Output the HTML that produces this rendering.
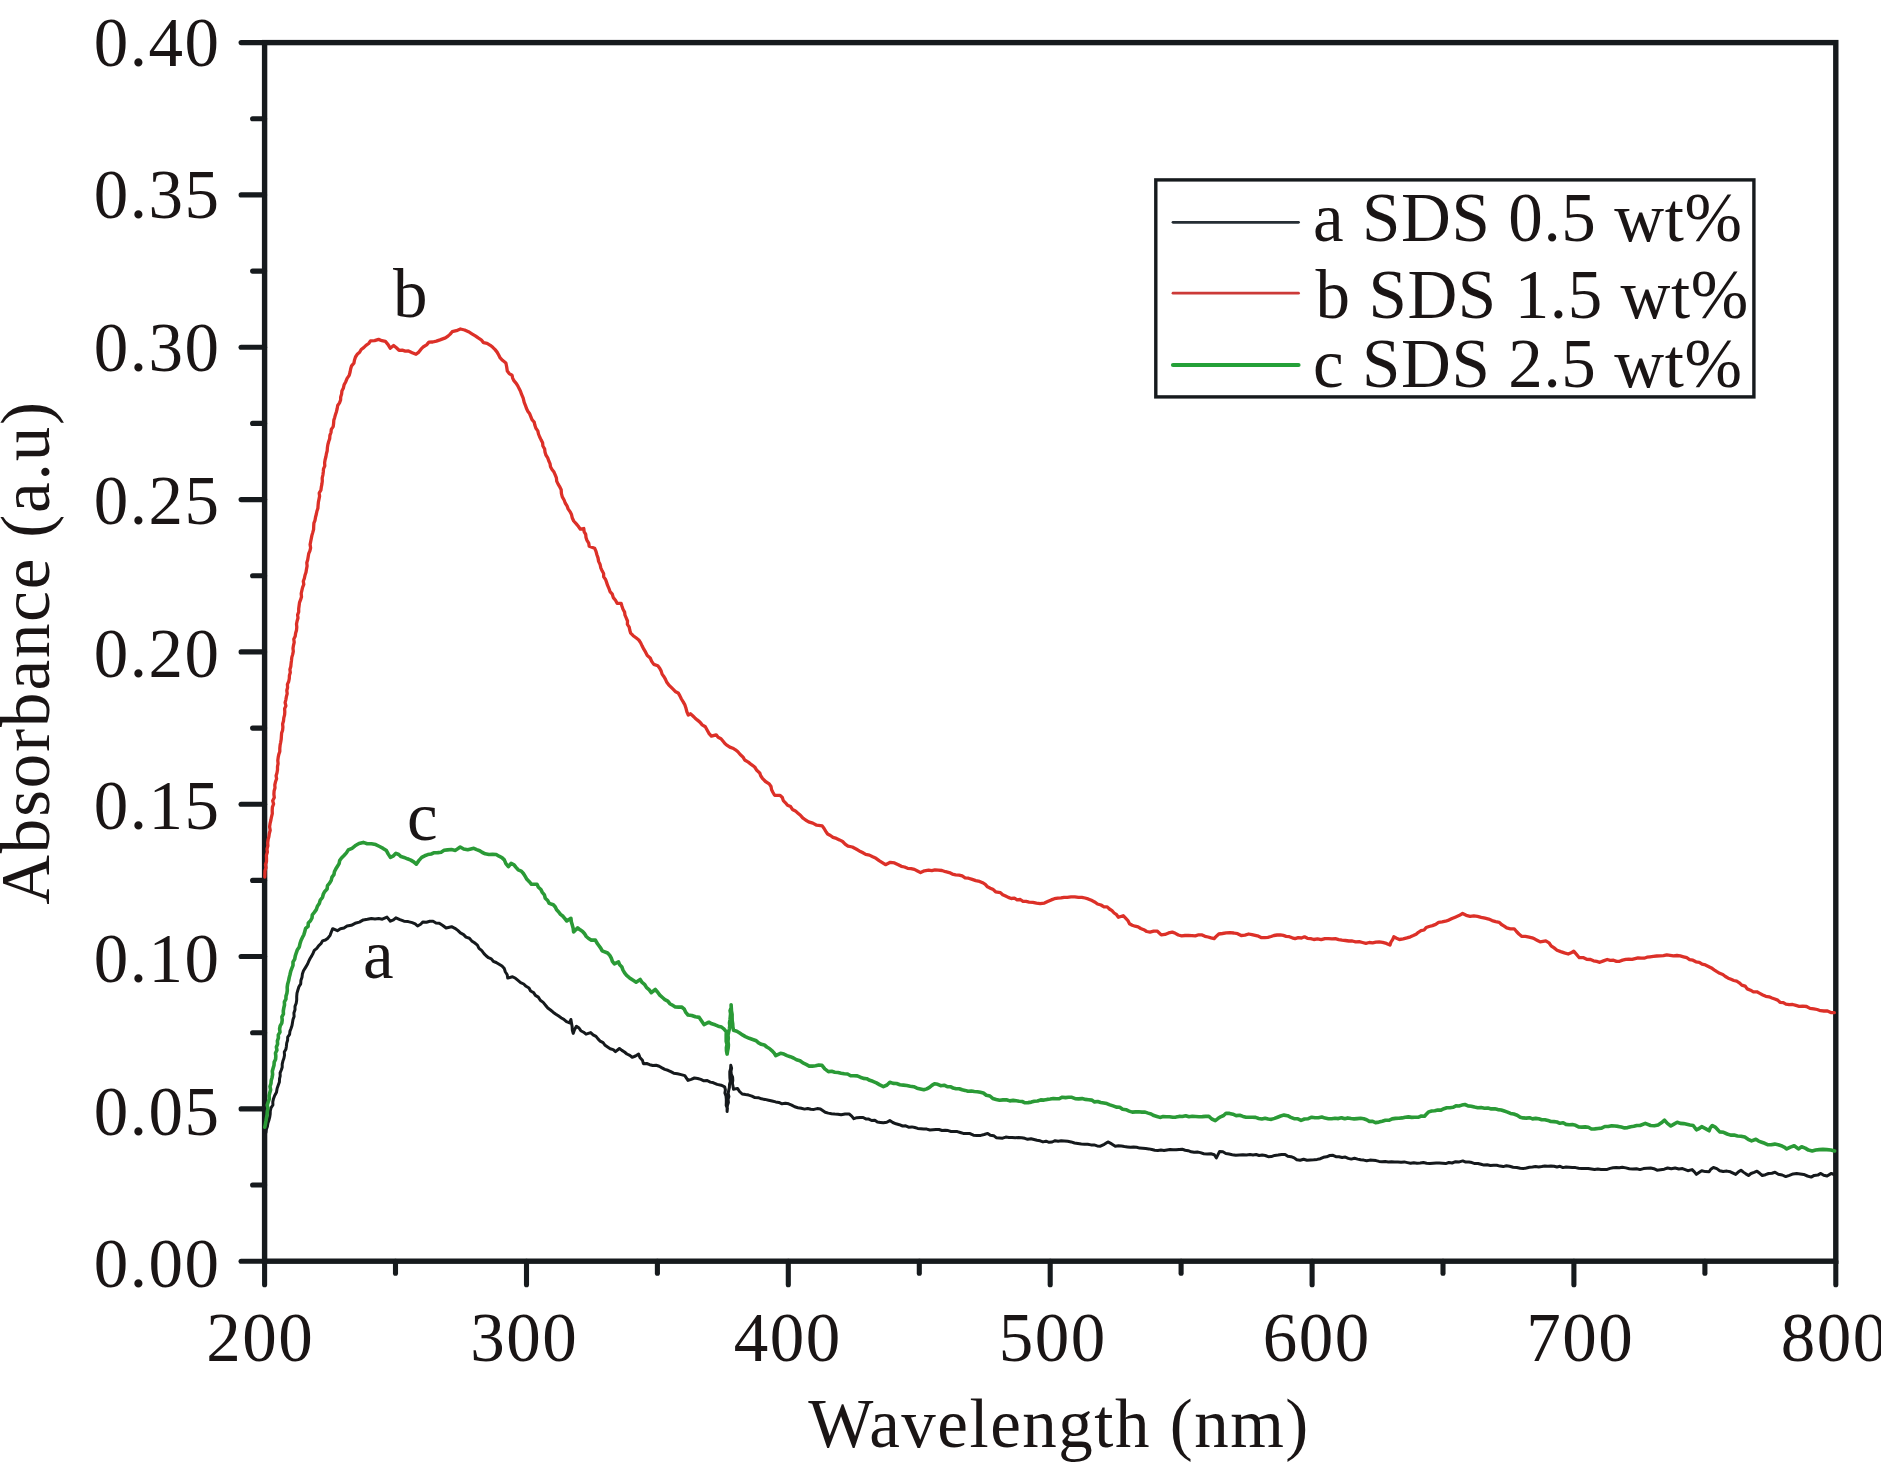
<!DOCTYPE html>
<html><head><meta charset="utf-8"><style>
html,body{margin:0;padding:0;background:#fff;overflow:hidden;}
svg{display:block;}
.t{font-family:"Liberation Serif",serif;font-size:69px;letter-spacing:1.5px;fill:#1a1515;}
</style></head><body>
<svg width="1881" height="1472" viewBox="0 0 1881 1472">
<rect x="264.6" y="42.6" width="1571.1999999999998" height="1218.6000000000001" fill="none" stroke="#161a1d" stroke-width="5.4"/>
<line x1="264.6" y1="1261.2" x2="264.6" y2="1284.7" stroke="#161a1d" stroke-width="5.1" stroke-linecap="round"/>
<line x1="395.5" y1="1261.2" x2="395.5" y2="1273.2" stroke="#161a1d" stroke-width="5.1" stroke-linecap="round"/>
<line x1="526.5" y1="1261.2" x2="526.5" y2="1284.7" stroke="#161a1d" stroke-width="5.1" stroke-linecap="round"/>
<line x1="657.4" y1="1261.2" x2="657.4" y2="1273.2" stroke="#161a1d" stroke-width="5.1" stroke-linecap="round"/>
<line x1="788.3" y1="1261.2" x2="788.3" y2="1284.7" stroke="#161a1d" stroke-width="5.1" stroke-linecap="round"/>
<line x1="919.3" y1="1261.2" x2="919.3" y2="1273.2" stroke="#161a1d" stroke-width="5.1" stroke-linecap="round"/>
<line x1="1050.2" y1="1261.2" x2="1050.2" y2="1284.7" stroke="#161a1d" stroke-width="5.1" stroke-linecap="round"/>
<line x1="1181.1" y1="1261.2" x2="1181.1" y2="1273.2" stroke="#161a1d" stroke-width="5.1" stroke-linecap="round"/>
<line x1="1312.1" y1="1261.2" x2="1312.1" y2="1284.7" stroke="#161a1d" stroke-width="5.1" stroke-linecap="round"/>
<line x1="1443.0" y1="1261.2" x2="1443.0" y2="1273.2" stroke="#161a1d" stroke-width="5.1" stroke-linecap="round"/>
<line x1="1573.9" y1="1261.2" x2="1573.9" y2="1284.7" stroke="#161a1d" stroke-width="5.1" stroke-linecap="round"/>
<line x1="1704.9" y1="1261.2" x2="1704.9" y2="1273.2" stroke="#161a1d" stroke-width="5.1" stroke-linecap="round"/>
<line x1="1835.8" y1="1261.2" x2="1835.8" y2="1284.7" stroke="#161a1d" stroke-width="5.1" stroke-linecap="round"/>
<line x1="264.6" y1="1261.2" x2="241.10000000000002" y2="1261.2" stroke="#161a1d" stroke-width="5.1" stroke-linecap="round"/>
<line x1="264.6" y1="1185.0" x2="252.60000000000002" y2="1185.0" stroke="#161a1d" stroke-width="5.1" stroke-linecap="round"/>
<line x1="264.6" y1="1108.9" x2="241.10000000000002" y2="1108.9" stroke="#161a1d" stroke-width="5.1" stroke-linecap="round"/>
<line x1="264.6" y1="1032.7" x2="252.60000000000002" y2="1032.7" stroke="#161a1d" stroke-width="5.1" stroke-linecap="round"/>
<line x1="264.6" y1="956.5" x2="241.10000000000002" y2="956.5" stroke="#161a1d" stroke-width="5.1" stroke-linecap="round"/>
<line x1="264.6" y1="880.4" x2="252.60000000000002" y2="880.4" stroke="#161a1d" stroke-width="5.1" stroke-linecap="round"/>
<line x1="264.6" y1="804.2" x2="241.10000000000002" y2="804.2" stroke="#161a1d" stroke-width="5.1" stroke-linecap="round"/>
<line x1="264.6" y1="728.1" x2="252.60000000000002" y2="728.1" stroke="#161a1d" stroke-width="5.1" stroke-linecap="round"/>
<line x1="264.6" y1="651.9" x2="241.10000000000002" y2="651.9" stroke="#161a1d" stroke-width="5.1" stroke-linecap="round"/>
<line x1="264.6" y1="575.7" x2="252.60000000000002" y2="575.7" stroke="#161a1d" stroke-width="5.1" stroke-linecap="round"/>
<line x1="264.6" y1="499.6" x2="241.10000000000002" y2="499.6" stroke="#161a1d" stroke-width="5.1" stroke-linecap="round"/>
<line x1="264.6" y1="423.4" x2="252.60000000000002" y2="423.4" stroke="#161a1d" stroke-width="5.1" stroke-linecap="round"/>
<line x1="264.6" y1="347.2" x2="241.10000000000002" y2="347.2" stroke="#161a1d" stroke-width="5.1" stroke-linecap="round"/>
<line x1="264.6" y1="271.1" x2="252.60000000000002" y2="271.1" stroke="#161a1d" stroke-width="5.1" stroke-linecap="round"/>
<line x1="264.6" y1="194.9" x2="241.10000000000002" y2="194.9" stroke="#161a1d" stroke-width="5.1" stroke-linecap="round"/>
<line x1="264.6" y1="118.8" x2="252.60000000000002" y2="118.8" stroke="#161a1d" stroke-width="5.1" stroke-linecap="round"/>
<line x1="264.6" y1="42.6" x2="241.10000000000002" y2="42.6" stroke="#161a1d" stroke-width="5.1" stroke-linecap="round"/>
<polyline points="265.9,1132.6 266.3,1129.4 267.4,1126.4 267.9,1123.3 268.9,1120.3 269.7,1117.2 270.2,1114.1 270.3,1110.9 271.0,1107.8 272.9,1105.0 272.8,1101.8 273.5,1098.7 274.6,1095.7 276.5,1092.3 277.1,1088.4 278.4,1084.8 279.4,1081.9 279.5,1078.9 280.2,1076.0 280.1,1072.9 281.3,1070.0 282.2,1067.2 282.2,1064.1 282.9,1061.1 283.9,1058.2 284.5,1055.2 284.3,1052.0 285.9,1049.2 286.4,1046.2 286.7,1043.1 287.6,1040.2 287.7,1037.1 289.6,1034.4 289.9,1031.4 291.0,1028.5 292.0,1025.6 292.5,1022.6 293.0,1019.6 294.1,1016.4 293.9,1013.0 295.0,1009.8 295.0,1006.4 296.2,1003.3 296.7,1000.0 296.7,996.6 297.0,993.2 297.9,990.0 298.9,986.8 300.7,983.9 300.9,980.5 302.0,977.3 302.4,974.0 303.5,970.8 305.6,967.4 307.6,964.0 308.8,961.2 310.1,958.5 311.7,955.9 313.1,953.2 314.3,950.4 316.8,948.4 318.6,945.8 320.9,943.7 322.5,940.9 325.4,940.0 327.9,938.2 330.1,935.3 331.3,932.0 332.7,928.7 337.4,930.7 340.4,928.7 344.0,928.0 347.0,926.0 351.3,925.3 355.1,923.3 359.4,922.1 363.3,919.9 367.4,919.3 371.4,918.5 375.0,919.0 378.7,918.6 382.3,919.2 387.0,917.1 390.4,921.2 393.4,919.9 395.9,917.8 399.9,919.6 404.0,921.2 408.2,921.6 412.2,922.6 415.2,923.8 417.6,926.0 420.6,924.3 423.0,921.9 426.5,922.2 429.8,921.2 433.1,921.3 436.0,923.0 439.3,923.3 442.8,925.5 446.1,928.0 451.6,926.7 454.9,928.3 457.8,930.4 460.4,932.9 463.6,934.6 466.0,937.1 469.4,938.2 471.7,940.9 474.5,942.8 477.4,945.1 479.0,948.4 481.8,950.7 484.0,953.6 486.1,955.8 488.5,957.7 491.3,958.9 493.3,961.3 496.2,962.5 499.1,964.3 502.0,966.1 504.3,968.6 505.3,971.8 507.2,974.7 507.7,978.1 512.5,976.7 515.5,978.3 518.0,980.4 520.6,982.6 523.7,984.0 526.1,986.3 529.0,988.0 530.6,991.0 533.6,992.6 535.4,995.4 538.3,997.1 540.3,1000.2 543.2,1002.4 545.5,1005.2 547.8,1008.0 550.5,1010.0 553.1,1012.2 555.9,1014.2 558.7,1016.1 561.4,1017.9 564.1,1019.6 566.5,1021.7 569.6,1022.9 570.9,1019.5 571.5,1023.0 572.1,1026.4 572.3,1030.0 573.2,1033.4 574.5,1029.7 576.4,1026.2 579.0,1028.0 580.8,1030.7 583.6,1032.2 586.0,1034.2 590.7,1032.6 593.1,1034.8 596.0,1036.3 598.0,1038.9 600.2,1041.2 603.1,1042.7 605.1,1045.3 607.6,1047.0 610.2,1048.7 613.2,1049.6 615.5,1051.7 619.4,1048.5 621.9,1050.4 624.5,1052.0 626.9,1054.0 629.8,1055.4 632.2,1057.3 635.5,1056.0 638.6,1054.1 639.9,1057.4 642.4,1060.2 643.4,1063.7 646.7,1063.5 649.7,1064.7 652.8,1065.5 656.1,1065.3 659.2,1066.3 662.0,1067.9 664.8,1069.4 667.9,1070.3 670.8,1071.7 673.7,1073.2 677.5,1073.7 681.1,1074.6 684.8,1075.6 688.0,1080.4 691.2,1079.3 694.4,1078.0 697.7,1078.5 700.8,1079.4 703.9,1080.8 707.3,1080.6 710.3,1082.1 713.5,1082.8 717.1,1084.4 721.1,1085.2 724.7,1086.8 725.4,1089.8 724.9,1093.0 726.0,1096.0 726.3,1099.1 726.3,1102.2 726.2,1105.4 727.4,1108.4 727.1,1111.5 727.1,1108.5 727.4,1105.5 728.4,1102.5 728.1,1099.4 728.9,1096.5 728.2,1093.4 728.7,1090.4 729.4,1087.4 729.5,1084.4 730.3,1081.3 729.9,1078.0 729.8,1074.8 729.8,1071.6 730.6,1068.5 730.8,1065.3 731.6,1068.2 731.0,1071.3 731.3,1074.3 732.6,1077.2 732.8,1080.2 732.4,1083.3 733.0,1086.2 733.5,1089.2 737.5,1088.4 739.5,1091.5 742.2,1094.0 745.5,1094.6 748.7,1095.1 751.9,1096.1 754.9,1097.6 758.3,1097.7 761.4,1098.8 765.0,1099.4 768.6,1100.2 772.1,1101.0 775.7,1101.9 778.9,1102.4 782.0,1103.8 785.4,1103.3 788.6,1103.8 791.7,1105.1 794.7,1106.8 797.9,1107.7 801.3,1108.3 804.5,1109.1 807.7,1108.5 810.8,1109.3 814.0,1109.4 817.2,1108.6 820.4,1109.1 825.2,1112.3 828.3,1113.1 831.5,1113.7 834.7,1114.0 837.9,1114.2 841.1,1114.7 845.1,1114.0 849.1,1113.9 851.7,1116.1 853.9,1118.7 856.9,1117.7 860.0,1117.4 863.1,1117.5 865.8,1118.9 868.8,1119.1 871.6,1120.5 874.8,1120.2 877.4,1122.0 880.4,1122.4 883.4,1122.8 886.8,1122.3 889.8,1120.6 892.8,1122.5 896.0,1123.8 899.4,1124.7 902.6,1126.0 905.7,1125.8 908.6,1127.2 911.8,1126.9 914.8,1127.5 917.7,1128.4 920.8,1128.7 923.8,1129.1 926.8,1129.1 929.9,1130.0 932.9,1129.7 936.0,1129.5 939.0,1129.5 942.0,1130.5 945.1,1130.2 948.1,1130.6 951.1,1131.5 954.3,1131.4 957.3,1131.6 960.3,1132.5 963.3,1133.4 966.4,1133.4 970.0,1133.6 973.4,1135.2 977.0,1135.5 980.7,1135.4 984.2,1134.5 987.7,1133.4 990.3,1135.2 993.7,1135.7 996.2,1137.7 999.4,1137.9 1002.6,1138.2 1005.8,1137.1 1009.0,1137.4 1012.1,1137.4 1015.3,1137.7 1018.5,1137.6 1021.7,1137.7 1024.8,1138.3 1027.7,1139.3 1031.0,1138.8 1034.0,1139.5 1037.0,1140.2 1040.1,1140.8 1043.0,1141.9 1046.0,1141.2 1049.1,1142.3 1052.2,1142.0 1055.1,1140.7 1058.2,1141.2 1061.2,1140.8 1064.3,1140.9 1067.7,1141.3 1071.1,1141.9 1074.5,1143.0 1077.9,1143.5 1081.3,1144.0 1084.5,1144.2 1087.7,1144.3 1090.9,1144.9 1094.1,1144.9 1097.2,1145.9 1100.4,1146.2 1104.3,1144.3 1107.9,1141.9 1111.7,1143.9 1115.3,1146.2 1118.4,1145.8 1121.4,1146.0 1124.4,1146.5 1127.5,1146.9 1130.5,1147.3 1133.6,1146.9 1136.6,1147.2 1139.6,1148.1 1142.7,1148.3 1145.7,1148.5 1148.8,1148.9 1151.8,1149.5 1154.8,1150.2 1157.9,1150.4 1160.9,1150.1 1164.0,1150.4 1167.0,1149.9 1170.0,1149.5 1173.0,1149.7 1176.1,1149.8 1179.1,1149.4 1182.2,1149.3 1185.2,1150.2 1188.2,1150.7 1191.2,1151.8 1194.2,1152.3 1197.4,1152.0 1200.4,1152.6 1203.8,1153.7 1207.3,1154.1 1210.9,1153.8 1214.3,1154.7 1216.4,1157.9 1218.0,1154.7 1219.6,1151.5 1222.9,1151.8 1225.8,1153.5 1229.1,1154.1 1232.3,1154.7 1235.8,1155.2 1239.4,1155.0 1242.9,1154.8 1246.5,1154.9 1250.0,1154.5 1253.0,1154.9 1256.1,1154.5 1259.1,1155.5 1262.2,1155.0 1265.3,1155.5 1268.2,1156.7 1271.3,1156.6 1274.7,1155.4 1278.1,1155.0 1281.6,1154.5 1285.1,1154.5 1287.8,1156.3 1291.1,1156.7 1294.2,1157.9 1296.8,1159.8 1300.2,1160.3 1303.6,1159.3 1307.0,1160.3 1310.4,1160.0 1313.8,1159.8 1317.1,1159.4 1320.4,1158.7 1323.4,1157.3 1326.7,1156.8 1329.8,1155.5 1333.0,1155.3 1335.9,1156.7 1339.0,1156.8 1342.1,1157.5 1345.3,1157.1 1348.2,1158.4 1351.3,1159.1 1354.5,1158.3 1357.6,1159.1 1360.6,1159.8 1363.7,1160.1 1366.7,1160.7 1369.9,1160.1 1372.9,1160.3 1376.0,1160.6 1379.1,1161.4 1382.1,1161.8 1385.2,1161.5 1388.3,1161.9 1391.5,1161.8 1394.7,1162.0 1397.9,1162.0 1401.1,1162.2 1404.3,1161.9 1407.4,1162.6 1410.6,1163.3 1413.8,1162.7 1417.0,1163.2 1420.2,1163.0 1423.4,1162.5 1426.6,1163.3 1429.8,1163.4 1433.0,1163.2 1436.2,1163.0 1439.3,1163.0 1442.5,1163.2 1445.7,1163.6 1448.9,1162.5 1452.1,1163.0 1455.6,1161.7 1459.3,1161.9 1462.8,1160.9 1465.7,1162.1 1468.9,1162.1 1471.9,1162.6 1474.9,1163.6 1478.0,1163.5 1481.0,1164.2 1484.0,1165.1 1487.2,1164.8 1490.4,1165.5 1493.6,1165.3 1496.8,1165.3 1500.0,1166.1 1503.2,1166.6 1506.4,1165.8 1509.6,1166.2 1513.1,1167.2 1516.7,1167.5 1520.2,1168.3 1523.3,1168.6 1526.4,1168.0 1529.4,1167.3 1532.5,1167.0 1535.5,1166.5 1538.7,1166.9 1541.7,1166.5 1544.8,1166.0 1547.9,1166.2 1550.9,1166.1 1554.0,1166.2 1557.0,1167.0 1560.0,1166.3 1563.0,1167.6 1566.1,1167.0 1569.1,1167.2 1572.3,1167.6 1575.5,1167.6 1578.6,1168.3 1581.8,1168.5 1585.0,1168.4 1588.2,1168.5 1591.4,1169.0 1594.6,1169.5 1597.8,1169.0 1601.0,1169.4 1604.1,1169.4 1607.2,1169.4 1610.1,1168.4 1613.1,1167.8 1616.2,1167.5 1619.3,1167.8 1622.3,1167.2 1625.8,1167.9 1629.3,1168.8 1632.9,1169.1 1636.5,1168.8 1640.0,1169.6 1643.5,1168.6 1647.0,1168.2 1650.6,1168.0 1653.9,1168.7 1657.0,1170.2 1660.6,1169.7 1664.2,1169.2 1667.6,1168.0 1671.3,1168.7 1675.1,1168.0 1678.8,1169.0 1682.5,1168.6 1687.8,1170.7 1692.1,1169.6 1694.4,1171.8 1696.4,1174.4 1699.0,1172.5 1701.7,1170.7 1705.4,1171.6 1709.1,1171.8 1710.8,1169.2 1713.4,1167.5 1716.8,1168.6 1719.7,1170.7 1723.2,1171.5 1726.9,1171.1 1730.4,1171.8 1735.7,1174.4 1738.2,1172.1 1741.0,1170.2 1743.4,1172.1 1745.9,1173.9 1748.5,1175.5 1751.0,1173.5 1754.1,1172.4 1757.0,1171.2 1759.7,1173.3 1762.3,1175.5 1765.5,1174.7 1768.6,1173.5 1771.9,1173.2 1775.0,1172.3 1778.3,1174.3 1782.2,1175.0 1785.7,1176.6 1789.4,1175.3 1793.1,1173.9 1796.7,1173.5 1800.2,1173.9 1803.7,1174.4 1807.4,1176.0 1811.2,1177.1 1814.2,1175.4 1817.8,1175.1 1820.8,1173.4 1823.7,1175.2 1827.1,1176.0 1831.4,1173.4 1833.5,1174.4" fill="none" stroke="#15191c" stroke-width="3.0" stroke-linejoin="round" stroke-linecap="round"/>
<polyline points="264.8,1127.2 265.4,1124.1 266.0,1120.9 266.5,1117.8 267.1,1114.7 267.3,1111.5 268.0,1108.4 267.2,1105.1 268.2,1102.0 269.3,1098.9 269.1,1095.7 269.8,1092.7 270.6,1089.7 270.0,1086.5 271.0,1083.5 271.2,1080.4 272.1,1077.4 272.6,1074.4 272.3,1071.2 273.1,1068.2 274.0,1065.2 274.2,1062.1 275.6,1059.2 275.8,1056.2 275.5,1053.0 276.9,1050.2 276.4,1047.0 277.6,1044.1 277.4,1040.9 278.4,1038.0 278.3,1034.9 280.0,1032.1 279.6,1028.9 280.2,1025.9 281.8,1023.1 282.2,1020.0 281.9,1016.9 283.4,1014.0 283.3,1010.9 283.8,1007.9 284.5,1005.0 284.4,1001.9 285.9,999.1 286.0,996.1 286.9,993.2 287.3,990.2 287.2,987.1 287.7,983.9 288.6,980.8 289.2,977.6 290.0,974.5 290.7,971.3 291.8,968.3 293.0,965.3 293.0,962.0 294.7,959.1 295.3,955.9 296.3,952.8 297.4,949.7 299.3,946.9 300.0,943.6 301.0,940.5 302.4,937.5 303.9,934.6 304.8,931.4 305.6,928.4 308.1,926.3 308.3,923.0 310.5,920.7 312.0,918.0 312.3,914.8 314.3,912.4 316.3,909.6 317.4,906.3 319.3,903.5 320.3,900.1 322.5,897.4 323.3,894.2 324.8,891.4 327.1,889.0 327.5,885.6 329.6,883.1 331.2,880.3 332.0,877.1 333.9,874.6 334.5,871.5 335.9,868.8 337.5,866.2 339.1,863.6 339.7,860.5 341.5,858.0 344.0,855.5 346.4,852.9 348.3,849.9 352.0,848.3 355.1,845.8 359.0,843.5 363.3,842.4 367.2,843.7 371.4,843.8 375.7,844.6 379.6,846.5 383.1,848.4 386.4,850.6 388.3,854.1 390.4,857.4 393.5,855.8 395.9,853.3 398.7,854.5 401.0,856.6 404.0,857.4 407.4,858.8 410.8,860.1 413.7,861.9 416.3,864.2 418.8,860.6 421.7,857.4 424.7,855.8 427.8,854.6 431.2,854.0 434.3,852.7 437.8,852.6 441.1,852.2 444.1,850.3 447.5,849.9 451.5,849.5 455.4,850.4 460.2,847.0 463.7,849.0 467.7,849.7 470.8,849.0 473.8,848.3 476.7,849.6 479.7,850.7 482.4,852.5 485.3,853.8 488.9,854.5 492.6,854.2 496.2,854.5 499.0,856.2 501.9,857.6 504.3,859.9 505.9,863.6 508.4,866.7 511.1,863.3 514.0,864.8 516.0,867.4 518.2,869.8 521.3,871.1 523.4,873.5 525.2,876.4 526.9,879.3 529.3,881.7 531.5,884.3 537.0,884.3 538.4,887.2 540.9,889.5 542.3,892.4 544.4,894.9 545.3,898.2 547.7,900.5 549.2,903.4 553.3,904.7 555.3,907.0 556.6,909.8 558.7,912.0 560.5,914.4 563.0,916.3 564.9,918.7 566.8,921.0 570.9,918.3 571.3,921.8 572.3,925.1 573.2,928.4 573.6,931.9 577.7,927.8 580.1,929.8 582.6,931.5 584.6,933.8 586.3,936.5 588.6,938.5 591.3,940.1 595.4,940.1 596.9,942.9 598.8,945.5 600.7,948.1 602.2,950.9 607.6,953.0 609.8,955.4 611.3,958.2 612.4,961.3 614.4,963.8 618.5,961.8 619.7,964.8 621.9,967.1 623.0,970.2 624.6,972.9 626.6,975.4 629.6,977.9 632.8,980.1 636.1,982.2 640.2,979.5 642.1,982.4 644.8,984.7 646.6,987.6 649.3,989.9 651.3,992.7 655.3,989.5 657.7,992.2 659.8,995.1 662.5,997.5 664.9,999.6 667.8,1001.1 669.8,1003.7 672.6,1005.3 675.3,1007.0 678.5,1007.1 681.6,1007.0 684.3,1009.2 685.8,1012.4 688.0,1015.0 691.8,1015.5 695.4,1016.8 699.2,1017.4 701.6,1021.0 704.0,1024.6 708.8,1022.2 711.8,1023.8 715.1,1024.8 718.2,1026.2 721.5,1027.0 724.1,1029.2 726.3,1031.8 726.2,1035.0 726.2,1038.2 726.2,1041.4 727.0,1044.5 726.4,1047.7 726.5,1050.9 727.1,1054.1 727.6,1050.9 728.2,1047.8 728.4,1044.6 728.0,1041.4 728.3,1038.2 728.0,1035.0 728.7,1031.8 729.4,1028.8 729.8,1025.8 729.5,1022.8 730.0,1019.8 730.3,1016.8 730.6,1013.8 730.1,1010.7 731.2,1007.7 731.1,1004.7 731.3,1007.9 731.5,1011.1 732.1,1014.3 732.1,1017.5 732.2,1020.7 732.7,1023.8 732.9,1027.0 733.5,1030.2 736.8,1031.2 739.7,1033.0 742.5,1034.9 745.4,1036.6 749.3,1038.3 753.4,1039.7 756.3,1040.8 758.6,1042.9 761.3,1044.3 764.4,1045.0 766.8,1047.0 769.4,1048.5 771.8,1050.6 774.1,1052.9 775.7,1055.7 780.5,1053.3 783.9,1054.1 787.0,1055.6 790.3,1056.7 793.5,1058.0 796.5,1059.7 800.0,1060.7 802.9,1062.9 806.1,1064.4 809.2,1066.1 812.4,1066.1 815.6,1065.8 818.8,1065.1 822.0,1065.3 824.8,1068.9 828.4,1071.6 831.7,1071.3 834.8,1072.3 838.0,1072.5 841.1,1073.2 844.3,1073.7 847.6,1074.0 850.6,1075.7 853.9,1075.7 857.2,1075.9 860.3,1077.2 863.4,1078.4 866.7,1078.7 869.7,1080.3 872.8,1081.3 876.4,1082.9 879.8,1084.9 883.4,1086.6 887.0,1085.0 889.8,1082.3 893.1,1083.4 896.6,1083.5 899.9,1084.7 903.4,1085.1 906.8,1085.5 910.2,1086.2 913.7,1086.7 917.0,1088.2 920.4,1089.0 923.8,1089.8 926.8,1088.9 929.5,1087.4 931.9,1085.4 934.5,1083.8 937.7,1084.3 940.7,1085.7 944.2,1085.2 947.2,1086.6 950.3,1086.7 953.1,1088.0 956.1,1088.7 959.2,1088.7 962.1,1089.8 965.1,1090.4 968.1,1091.3 971.3,1091.0 974.3,1091.5 977.4,1091.7 980.4,1092.3 983.4,1093.0 986.3,1095.2 989.9,1096.0 992.7,1098.4 996.2,1099.4 999.6,1100.2 1003.0,1099.9 1006.4,1099.7 1009.8,1100.9 1013.2,1100.4 1016.2,1100.8 1019.2,1101.2 1022.2,1101.5 1025.0,1102.8 1028.1,1102.6 1031.3,1102.1 1034.4,1101.2 1037.6,1101.0 1040.7,1099.9 1044.0,1100.1 1047.2,1099.4 1050.2,1099.0 1053.3,1098.5 1056.4,1098.8 1059.4,1098.6 1062.3,1097.2 1065.5,1097.6 1068.5,1097.2 1071.9,1097.3 1075.2,1098.7 1078.6,1098.9 1082.1,1098.6 1085.5,1099.4 1088.6,1099.7 1091.7,1100.1 1094.5,1101.9 1097.7,1101.5 1100.7,1102.5 1103.8,1103.0 1106.8,1103.6 1109.9,1104.9 1113.1,1105.9 1116.3,1107.1 1119.7,1107.3 1122.6,1109.3 1126.0,1109.7 1129.1,1111.1 1132.3,1112.1 1135.5,1111.9 1138.7,1111.8 1141.9,1112.1 1145.1,1112.1 1148.1,1113.1 1151.1,1114.0 1153.9,1115.6 1157.0,1116.5 1160.0,1117.4 1163.1,1116.6 1166.3,1116.7 1169.5,1116.8 1172.8,1117.3 1175.9,1117.1 1179.1,1116.4 1182.4,1116.5 1185.7,1115.7 1189.0,1116.8 1192.3,1116.3 1195.7,1116.5 1199.0,1116.7 1202.3,1116.6 1205.6,1116.4 1208.9,1116.4 1211.8,1119.0 1215.3,1120.6 1217.9,1118.6 1220.6,1116.8 1223.6,1115.5 1226.0,1113.2 1229.5,1113.4 1232.9,1114.2 1236.1,1115.6 1239.7,1115.2 1243.0,1116.4 1246.1,1117.2 1249.3,1117.3 1252.4,1117.3 1255.6,1117.4 1258.7,1118.5 1261.8,1119.0 1265.1,1118.2 1268.2,1119.0 1271.3,1119.4 1274.5,1118.4 1277.6,1117.2 1280.7,1116.0 1284.0,1115.1 1287.6,1115.7 1290.8,1117.3 1294.1,1118.7 1297.9,1118.8 1301.1,1120.4 1304.5,1119.0 1308.3,1118.7 1311.7,1117.2 1315.0,1117.8 1318.4,1117.7 1321.8,1117.0 1325.1,1118.1 1328.4,1118.7 1331.7,1118.8 1335.1,1118.3 1338.3,1118.6 1341.5,1117.7 1344.7,1118.8 1347.8,1117.9 1351.0,1118.5 1354.2,1118.9 1357.4,1118.6 1360.6,1118.3 1363.7,1118.7 1366.6,1119.7 1369.4,1121.4 1372.7,1121.3 1375.5,1122.6 1378.9,1122.1 1382.2,1121.3 1385.4,1120.3 1388.9,1120.3 1392.1,1118.9 1395.5,1118.4 1398.9,1118.3 1402.1,1117.9 1405.3,1117.2 1408.4,1116.9 1411.7,1117.4 1414.9,1117.3 1418.1,1117.3 1421.3,1116.0 1424.5,1116.2 1426.5,1114.0 1428.7,1111.9 1431.7,1111.0 1434.8,1110.8 1437.8,1110.1 1441.0,1110.1 1443.9,1108.7 1446.8,1107.7 1450.0,1107.7 1453.0,1107.3 1455.9,1105.9 1459.0,1106.0 1461.9,1105.1 1464.9,1104.5 1468.0,1105.9 1471.3,1106.2 1474.5,1107.1 1477.7,1107.7 1481.1,1107.6 1484.5,1108.2 1487.9,1108.0 1491.3,1108.9 1494.7,1108.7 1497.9,1109.6 1501.2,1110.0 1504.3,1111.0 1507.5,1112.1 1510.5,1113.4 1513.8,1114.0 1517.2,1115.2 1520.2,1117.2 1523.2,1117.9 1526.3,1118.1 1529.5,1117.7 1532.5,1118.9 1535.7,1118.4 1538.7,1118.8 1541.7,1119.8 1544.9,1119.7 1547.9,1120.4 1550.8,1121.5 1554.0,1121.6 1557.0,1122.0 1559.9,1123.3 1563.2,1122.8 1566.0,1124.4 1569.1,1124.7 1572.4,1124.6 1575.6,1125.3 1578.6,1126.9 1581.9,1127.1 1585.2,1126.9 1588.4,1127.3 1591.4,1129.0 1594.7,1128.9 1598.1,1128.5 1601.6,1128.1 1604.8,1126.5 1608.3,1126.5 1611.7,1125.7 1614.9,1126.0 1618.2,1126.4 1621.3,1127.1 1624.5,1127.9 1627.6,1127.6 1630.7,1126.7 1633.8,1126.3 1636.8,1125.5 1640.0,1125.5 1645.3,1123.4 1650.6,1125.5 1654.4,1125.7 1658.1,1125.0 1661.4,1122.8 1664.5,1120.2 1667.4,1123.4 1670.8,1126.0 1674.0,1124.1 1677.2,1122.3 1680.3,1123.4 1683.6,1123.6 1686.8,1124.3 1690.0,1125.0 1693.2,1125.5 1696.4,1129.8 1699.2,1128.5 1701.7,1126.6 1705.5,1128.6 1709.1,1130.8 1710.2,1127.9 1712.3,1125.5 1715.2,1127.1 1717.5,1129.5 1719.7,1131.9 1723.6,1132.3 1727.2,1134.0 1730.6,1135.1 1734.1,1135.1 1737.5,1136.0 1741.0,1136.2 1744.8,1137.1 1748.1,1139.3 1751.6,1140.9 1755.9,1139.3 1758.6,1141.1 1761.7,1142.2 1764.7,1143.3 1767.6,1144.7 1771.1,1144.7 1774.7,1144.1 1778.2,1144.7 1781.2,1145.7 1784.1,1147.1 1786.7,1148.9 1790.4,1147.1 1794.2,1145.7 1798.4,1148.9 1801.6,1146.8 1805.2,1148.1 1808.5,1150.1 1812.2,1151.0 1815.7,1150.0 1819.3,1149.6 1822.9,1149.4 1826.8,1149.6 1830.8,1150.0 1834.6,1151.0" fill="none" stroke="#2a9a36" stroke-width="3.6" stroke-linejoin="round" stroke-linecap="round"/>
<polyline points="264.8,877.0 264.9,873.9 265.0,870.7 266.0,867.7 265.5,864.5 266.5,861.5 266.5,858.3 266.4,855.2 267.4,852.1 267.0,849.0 267.9,845.9 267.7,842.8 268.1,839.7 268.9,836.6 269.3,833.5 270.2,830.2 269.6,826.7 270.1,823.3 270.9,820.0 271.5,816.8 272.3,813.7 272.2,810.4 272.4,807.1 273.6,804.0 272.7,800.7 274.3,797.6 273.9,794.3 274.1,791.0 275.0,787.9 274.8,784.8 275.5,781.8 276.6,778.8 276.1,775.7 277.0,772.7 277.5,769.7 277.5,766.6 278.1,763.6 277.8,760.5 278.2,757.4 278.8,754.4 279.8,751.5 279.8,748.4 280.1,745.3 280.7,742.3 281.2,739.3 281.4,736.2 281.6,733.1 282.6,730.2 282.9,727.1 282.6,724.0 283.5,721.0 283.8,717.9 284.6,714.9 284.8,711.9 284.6,708.7 285.9,705.8 285.1,702.6 285.9,699.6 286.4,696.6 287.2,693.6 286.8,690.5 287.6,687.5 287.4,684.4 288.7,681.5 289.3,678.5 289.4,675.5 290.3,672.5 289.9,669.4 290.8,666.5 291.1,663.4 291.5,660.4 291.8,657.4 292.7,654.4 293.3,651.4 293.0,648.3 293.5,645.3 294.2,642.3 293.8,639.1 295.2,636.2 295.6,633.2 296.5,630.2 296.8,627.1 296.5,624.0 297.1,621.0 298.0,618.0 297.6,614.8 298.7,611.9 298.7,608.7 299.1,605.7 299.5,602.6 300.6,599.7 301.5,596.7 301.2,593.5 301.9,590.4 302.6,587.4 303.8,584.4 303.3,581.2 304.4,578.2 305.0,575.2 306.0,572.2 306.5,569.1 307.1,566.0 306.8,562.8 307.7,559.8 308.2,556.7 308.7,553.7 309.9,550.8 310.6,547.8 310.1,544.5 310.7,541.5 311.3,538.5 311.9,535.4 312.8,532.4 313.6,529.4 313.7,526.3 313.9,523.2 315.0,520.3 315.5,517.2 316.3,514.2 316.9,511.2 317.9,508.3 318.1,505.2 318.4,502.1 319.0,499.2 319.6,496.1 319.2,493.0 320.9,490.2 321.3,487.1 321.9,484.1 322.3,481.1 322.2,478.0 322.9,475.0 323.3,471.9 323.5,468.8 324.8,465.9 324.6,462.8 325.1,459.7 325.9,456.7 326.4,453.7 327.2,450.7 327.4,447.6 327.9,444.5 328.7,441.5 329.7,438.6 329.9,435.4 331.0,432.5 331.3,429.4 333.2,426.6 333.6,423.5 333.8,420.3 334.7,417.4 335.5,414.4 336.5,411.4 337.2,408.5 337.7,405.5 339.5,402.9 340.6,400.0 340.7,396.9 341.6,394.1 341.9,391.0 343.3,388.3 344.1,384.8 345.8,381.7 347.1,378.4 349.2,375.4 350.1,372.0 350.7,368.8 351.6,365.8 353.9,363.2 354.5,360.0 355.5,357.0 357.2,354.3 359.6,352.3 361.2,349.5 363.7,347.6 366.0,345.4 368.7,343.5 370.5,340.8 374.6,340.6 378.6,339.4 381.9,340.7 385.4,341.4 388.1,344.6 390.2,348.2 393.6,345.5 396.4,347.8 399.0,350.3 402.2,350.1 405.3,351.1 408.5,351.0 412.2,352.7 416.0,354.3 418.8,352.1 421.0,349.2 423.5,346.7 426.6,344.9 428.9,342.1 432.7,342.0 436.4,341.1 440.0,339.9 445.4,337.9 448.0,336.1 450.2,334.1 452.2,331.7 456.4,330.7 460.4,329.0 464.6,330.0 468.5,331.7 471.9,333.8 475.3,335.8 478.2,337.9 481.2,339.8 483.5,342.6 487.1,343.3 490.3,345.3 492.8,347.3 495.1,349.6 497.1,352.1 498.7,355.0 500.2,357.9 502.5,360.3 505.9,363.0 506.7,367.0 507.3,371.1 509.2,373.6 512.0,375.2 512.7,378.2 514.1,380.9 516.2,383.3 517.8,385.9 519.1,388.6 520.5,391.3 521.5,394.2 523.2,398.2 524.2,402.4 525.4,405.3 526.4,408.3 527.8,411.2 529.7,413.8 530.8,416.7 532.0,419.7 534.2,422.1 534.9,425.3 535.9,428.3 537.8,430.9 538.5,434.0 539.7,437.0 541.1,439.9 542.6,442.7 542.9,446.0 544.6,448.8 545.0,452.0 545.9,455.0 547.7,457.8 548.7,460.8 550.0,463.6 550.5,466.8 552.0,469.5 554.0,472.1 555.2,474.9 556.4,477.8 556.7,481.1 558.0,483.9 559.6,486.6 561.2,489.8 561.4,493.4 562.3,496.9 564.1,500.0 565.2,503.0 567.0,505.8 568.1,508.9 570.0,511.6 571.5,514.5 572.2,517.7 573.7,521.0 576.1,523.6 578.3,526.3 580.4,529.2 583.8,528.5 584.1,531.6 585.7,534.4 586.0,537.5 587.0,540.4 588.7,543.1 589.2,546.2 594.6,548.2 596.0,551.4 596.9,554.7 598.0,557.9 598.6,561.4 600.1,564.5 600.8,567.9 602.1,570.8 603.6,573.5 603.7,576.9 605.6,579.5 606.6,582.4 607.6,585.4 608.9,588.3 610.0,591.6 612.3,594.2 613.3,597.6 615.5,600.3 617.1,603.3 621.1,603.3 622.0,606.3 623.0,609.3 624.6,612.1 625.0,615.2 626.3,618.1 627.5,621.0 627.4,624.4 629.2,627.1 629.8,630.2 630.7,633.2 633.2,635.7 636.0,637.8 638.8,640.0 640.7,642.9 642.2,646.1 643.8,649.2 645.6,652.2 647.3,655.5 650.2,658.0 651.7,661.4 653.8,664.4 657.8,665.8 659.7,668.3 661.2,671.1 662.1,674.1 664.0,676.7 665.5,679.4 666.8,682.3 668.7,684.8 672.8,688.9 675.2,691.4 678.2,692.9 679.9,695.9 681.4,699.0 683.2,701.9 684.9,704.9 686.0,708.3 686.9,711.8 688.3,715.1 690.4,713.8 692.7,715.8 694.9,717.9 697.2,719.9 699.9,722.1 702.2,724.9 705.3,726.7 707.1,730.0 708.9,733.3 711.4,736.2 716.2,734.8 718.1,737.3 721.0,738.7 722.9,741.0 724.9,743.5 727.2,745.4 729.8,747.1 732.8,748.2 735.5,749.8 737.9,751.8 740.2,754.5 742.9,756.9 744.7,760.0 748.3,762.1 751.5,764.7 754.7,767.0 756.8,770.3 759.7,772.9 760.7,775.8 762.4,778.3 765.5,781.5 769.2,783.8 771.0,786.5 771.6,789.7 773.0,792.5 774.6,795.3 780.1,795.3 782.3,797.5 783.3,800.6 785.5,802.8 787.5,805.3 790.6,806.6 792.4,809.4 795.4,810.9 797.7,813.0 800.4,815.2 802.7,817.9 805.6,820.0 808.6,821.8 812.8,823.1 816.7,825.2 822.2,825.9 824.1,828.5 825.8,831.3 827.6,834.0 830.4,835.5 833.0,837.4 836.4,838.4 839.5,839.9 842.6,841.5 845.1,844.1 848.0,846.2 852.3,847.0 856.1,849.0 859.3,850.9 862.5,852.5 865.7,854.4 869.4,855.1 872.7,856.8 876.0,858.3 879.1,860.6 882.3,862.6 885.5,864.7 890.3,862.3 894.5,862.9 898.3,864.7 901.3,866.3 904.5,867.0 907.6,868.3 911.0,868.6 914.4,869.4 917.5,871.0 920.6,872.6 924.4,870.8 928.6,870.2 931.8,870.6 934.9,869.9 938.1,870.2 941.9,870.5 945.6,871.7 949.3,872.6 952.3,874.1 955.6,874.9 959.0,875.1 962.2,875.9 965.1,877.8 968.5,878.2 972.2,879.4 975.8,880.6 979.6,881.4 982.6,882.7 985.3,884.3 987.5,886.8 990.3,888.2 993.3,889.6 995.6,891.8 1000.4,892.6 1002.7,894.7 1005.6,896.0 1008.3,897.4 1011.2,898.5 1014.4,898.2 1017.1,899.9 1020.3,899.5 1023.0,901.3 1026.1,901.4 1029.1,902.1 1032.8,902.4 1036.5,903.2 1040.2,903.7 1044.4,903.1 1048.2,901.3 1051.3,899.9 1054.4,898.7 1057.8,898.1 1061.0,897.9 1064.1,897.3 1067.3,897.4 1071.0,896.9 1074.8,896.9 1078.5,897.4 1081.8,897.3 1085.0,898.0 1088.1,898.9 1091.4,900.3 1094.6,901.9 1097.5,904.0 1101.0,905.0 1104.0,906.9 1107.2,906.9 1109.4,909.0 1112.0,910.7 1114.1,913.0 1116.6,914.7 1118.4,917.3 1123.2,915.7 1125.6,918.2 1127.9,920.6 1129.5,923.7 1132.2,925.2 1135.1,926.2 1138.1,926.9 1140.7,928.5 1143.8,929.7 1146.7,931.5 1150.0,932.1 1153.6,931.1 1157.4,931.2 1161.2,934.9 1165.0,934.4 1168.6,932.9 1172.3,932.1 1175.4,933.3 1178.3,935.0 1181.6,935.8 1185.0,935.5 1188.4,935.5 1191.9,935.6 1195.3,935.9 1198.7,934.8 1202.1,934.9 1205.0,936.3 1208.1,937.0 1211.1,937.9 1214.2,938.6 1216.4,936.2 1218.8,934.0 1222.5,933.5 1226.2,932.9 1229.9,932.7 1233.7,933.0 1237.6,933.7 1241.2,935.5 1245.0,935.1 1248.6,934.0 1251.9,934.6 1255.2,935.4 1258.5,936.2 1261.6,937.7 1264.8,937.7 1267.9,937.3 1271.0,936.5 1274.0,935.5 1277.1,935.0 1280.3,934.9 1283.3,935.4 1286.2,936.3 1289.3,936.7 1292.2,937.8 1295.1,938.6 1298.2,937.7 1301.5,938.0 1304.5,936.8 1307.4,938.3 1310.7,938.7 1313.8,939.5 1317.5,938.9 1321.2,939.7 1324.9,938.6 1328.6,938.6 1332.0,938.8 1335.4,938.7 1338.7,939.6 1342.0,940.1 1345.4,940.5 1348.8,941.0 1352.3,941.0 1355.6,941.9 1359.2,941.7 1362.5,942.5 1365.9,943.3 1369.2,942.5 1372.6,942.8 1375.9,942.1 1379.2,941.8 1382.6,942.3 1386.4,943.4 1390.0,945.1 1390.9,942.2 1392.6,939.6 1393.8,936.8 1396.6,938.2 1399.4,939.5 1403.2,938.9 1406.9,937.9 1410.5,936.8 1413.3,935.6 1416.1,934.3 1418.4,932.3 1421.0,930.7 1424.1,930.0 1426.2,927.5 1429.1,926.5 1432.5,925.6 1435.7,924.4 1438.6,922.4 1442.1,921.9 1445.5,921.2 1448.8,920.1 1452.0,918.5 1455.2,917.2 1459.0,915.6 1462.6,913.5 1466.2,915.3 1470.1,916.3 1473.8,915.8 1477.5,916.3 1481.2,917.3 1485.0,918.2 1488.7,919.1 1492.1,920.6 1495.6,921.6 1499.3,922.3 1501.5,924.5 1504.2,926.1 1506.7,927.9 1510.4,928.9 1514.2,928.8 1516.5,931.5 1518.9,934.0 1521.6,936.3 1525.4,936.4 1529.1,937.2 1532.1,937.8 1534.9,939.1 1537.5,940.5 1540.2,941.9 1545.8,940.9 1549.0,942.8 1551.1,945.9 1554.1,947.9 1557.0,950.2 1560.7,951.6 1564.4,952.9 1568.2,954.0 1571.1,952.8 1573.7,951.2 1576.5,954.4 1579.3,957.7 1583.1,957.6 1586.7,959.3 1590.5,959.5 1593.5,960.8 1596.7,961.4 1599.8,962.3 1603.5,960.9 1607.2,959.5 1610.3,960.4 1613.5,960.2 1616.5,961.4 1619.6,961.3 1622.6,960.1 1625.7,959.4 1628.9,959.2 1632.0,959.4 1635.1,958.6 1638.0,957.8 1641.1,958.2 1644.1,958.2 1647.0,957.2 1650.0,956.8 1653.3,956.3 1656.7,956.0 1660.1,955.9 1663.5,955.7 1666.8,954.9 1670.1,955.4 1673.5,955.9 1676.9,955.5 1680.2,955.9 1683.5,956.8 1686.7,957.7 1689.6,959.6 1692.9,960.2 1695.9,961.8 1699.3,962.3 1702.1,964.2 1705.4,964.9 1708.4,966.4 1711.4,967.9 1714.1,969.8 1716.9,971.6 1719.7,973.3 1722.8,974.5 1725.4,976.5 1728.2,978.2 1731.0,979.3 1733.8,980.5 1736.7,981.2 1739.3,982.8 1741.8,985.1 1745.1,986.1 1747.3,988.9 1750.5,990.2 1753.4,991.9 1756.9,991.8 1759.8,993.4 1762.8,995.0 1765.8,996.3 1769.1,996.8 1771.9,998.0 1774.8,999.0 1777.7,1000.1 1780.0,1002.3 1783.3,1002.6 1785.9,1004.2 1789.2,1004.7 1792.6,1004.5 1795.9,1005.4 1799.2,1006.3 1802.6,1006.1 1806.5,1006.5 1810.0,1008.4 1813.8,1008.9 1817.2,1009.5 1820.5,1010.7 1824.0,1011.0 1827.5,1011.0 1830.8,1012.5 1834.3,1012.6" fill="none" stroke="#dc3028" stroke-width="3.3" stroke-linejoin="round" stroke-linecap="round"/>
<text x="260.2" y="1361" text-anchor="middle" class="t">200</text>
<text x="524.2" y="1361" text-anchor="middle" class="t">300</text>
<text x="787.8" y="1361" text-anchor="middle" class="t">400</text>
<text x="1052.8" y="1361" text-anchor="middle" class="t">500</text>
<text x="1316.8" y="1361" text-anchor="middle" class="t">600</text>
<text x="1580.2" y="1361" text-anchor="middle" class="t">700</text>
<text x="1834.8" y="1361" text-anchor="middle" class="t">800</text>
<text x="220.5" y="1287.3" text-anchor="end" class="t">0.00</text>
<text x="220.5" y="1134.6" text-anchor="end" class="t">0.05</text>
<text x="220.5" y="981.9" text-anchor="end" class="t">0.10</text>
<text x="220.5" y="829.2" text-anchor="end" class="t">0.15</text>
<text x="220.5" y="676.5" text-anchor="end" class="t">0.20</text>
<text x="220.5" y="523.8" text-anchor="end" class="t">0.25</text>
<text x="220.5" y="371.1" text-anchor="end" class="t">0.30</text>
<text x="220.5" y="218.4" text-anchor="end" class="t">0.35</text>
<text x="220.5" y="65.7" text-anchor="end" class="t">0.40</text>
<text x="1059" y="1447" text-anchor="middle" class="t">Wavelength (nm)</text>
<text transform="translate(49,652.5) rotate(-90)" text-anchor="middle" class="t" style="letter-spacing:1.85px">Absorbance (a.u)</text>
<rect x="1155.8" y="179.9" width="598.1" height="217" fill="#fff" stroke="#161a1d" stroke-width="3.4"/>
<line x1="1173" y1="222.3" x2="1298.5" y2="222.3" stroke="#262e35" stroke-width="2.8" stroke-linecap="round"/>
<text x="1313" y="240.6" class="t" style="letter-spacing:0.6px">a SDS 0.5 wt%</text>
<line x1="1173" y1="293.2" x2="1298.5" y2="293.2" stroke="#cc3a38" stroke-width="2.8" stroke-linecap="round"/>
<text x="1315.5" y="318" class="t" style="letter-spacing:0.6px">b SDS 1.5 wt%</text>
<line x1="1173" y1="365" x2="1298.5" y2="365" stroke="#24a038" stroke-width="4.2" stroke-linecap="round"/>
<text x="1313" y="386.5" class="t" style="letter-spacing:0.6px">c SDS 2.5 wt%</text>
<text x="411" y="317" text-anchor="middle" class="t">b</text>
<text x="423" y="840" text-anchor="middle" class="t">c</text>
<text x="379" y="978" text-anchor="middle" class="t">a</text>
</svg></body></html>
